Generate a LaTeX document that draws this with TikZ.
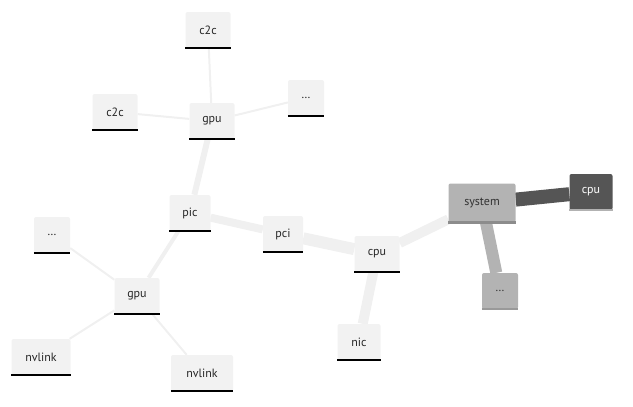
\documentclass[tikz,border=0pt]{standalone}
\usepackage{fontspec}
\setmainfont{PT Sans}
\usetikzlibrary{positioning,backgrounds}
\definecolor{boxbg}{HTML}{F2F2F2}
\definecolor{linkbg}{HTML}{F0F0F0}
\definecolor{selgray}{HTML}{B3B3B3}
\definecolor{seldark}{HTML}{555555}
\tikzstyle{box} = [fill=boxbg, rounded corners=2pt, minimum height=36pt, inner xsep=5pt, text=black!85, font=\fontsize{12}{14}\selectfont]
\tikzstyle{selbox} = [box, fill=selgray, text=black!80]
\tikzstyle{topbox} = [box, fill=seldark, text=white]
\tikzstyle{link} = [draw=linkbg, line cap=butt]

\begin{document}
\begin{tikzpicture}[x=1pt, y=-1pt]
            \useasboundingbox (0,0) rectangle (633,407);
            % Nodes
            \node [box, minimum width=45pt] (c2cA) at (208,30) {c2c};
            \node [box, minimum width=45pt] (c2cB) at (115,112) {c2c};
            \node [box, minimum width=45pt] (gpuA) at (212,121) {gpu};
            \node [box, minimum width=36pt] (moreA) at (306,98) {\dots};
            \node [box, minimum width=41pt] (pic) at (190,213) {pic};
            \node [box, minimum width=40pt] (pci) at (283,234) {pci};
            \node [box, minimum width=45pt] (cpuA) at (377,254) {cpu};
            \node [selbox, minimum width=67pt, minimum height=39pt] (system) at (482,203) {system};
            \node [topbox, minimum width=43pt] (cpuB) at (591,192) {cpu};
            \node [selbox, minimum width=36pt] (moreB) at (500,291) {\dots};
            \node [box, minimum width=36pt] (moreC) at (52,235) {\dots};
            \node [box, minimum width=45pt] (gpuB) at (137,296) {gpu};
            \node [box, minimum width=43pt] (nic) at (359,342) {nic};
            \node [box, minimum width=59pt] (nvA) at (41,357) {nvlink};
            \node [box, minimum width=62pt] (nvB) at (202,373) {nvlink};

            % Underlines
            \foreach \n in {c2cA,c2cB,gpuA,moreA,pic,pci,cpuA,moreC,gpuB,nic,nvA,nvB}
                \draw [black, line width=2.5pt] (\n.south west) -- (\n.south east);
            \draw [black!45, line width=2.5pt] (system.south west) -- (system.south east);
            \draw [black!40, line width=2.5pt] (moreB.south west) -- (moreB.south east);
            \draw [black!30, line width=2.5pt] (cpuB.south west) -- (cpuB.south east);

            % Connections
            \begin{pgfonlayer}{background}
            \draw [link, draw=seldark, line width=14pt] (system) -- (cpuB);
            \draw [link, draw=selgray, line width=12pt] (system) -- (moreB);
            \draw [link, line width=10pt] (system) -- (cpuA);
            \draw [link, line width=12pt] (cpuA) -- (pci);
            \draw [link, line width=10pt] (cpuA) -- (nic);
            \draw [link, line width=8pt] (pci) -- (pic);
            \draw [link, line width=6pt] (pic) -- (gpuA);
            \draw [link, line width=4pt] (pic) -- (gpuB);
            \draw [link, line width=2pt] (gpuA) -- (c2cA);
            \draw [link, line width=2pt] (gpuA) -- (c2cB);
            \draw [link, line width=2pt] (gpuA) -- (moreA);
            \draw [link, line width=2pt] (gpuB) -- (moreC);
            \draw [link, line width=2pt] (gpuB) -- (nvA);
            \draw [link, line width=2pt] (gpuB) -- (nvB);
            \end{pgfonlayer}
\end{tikzpicture}
\end{document}
